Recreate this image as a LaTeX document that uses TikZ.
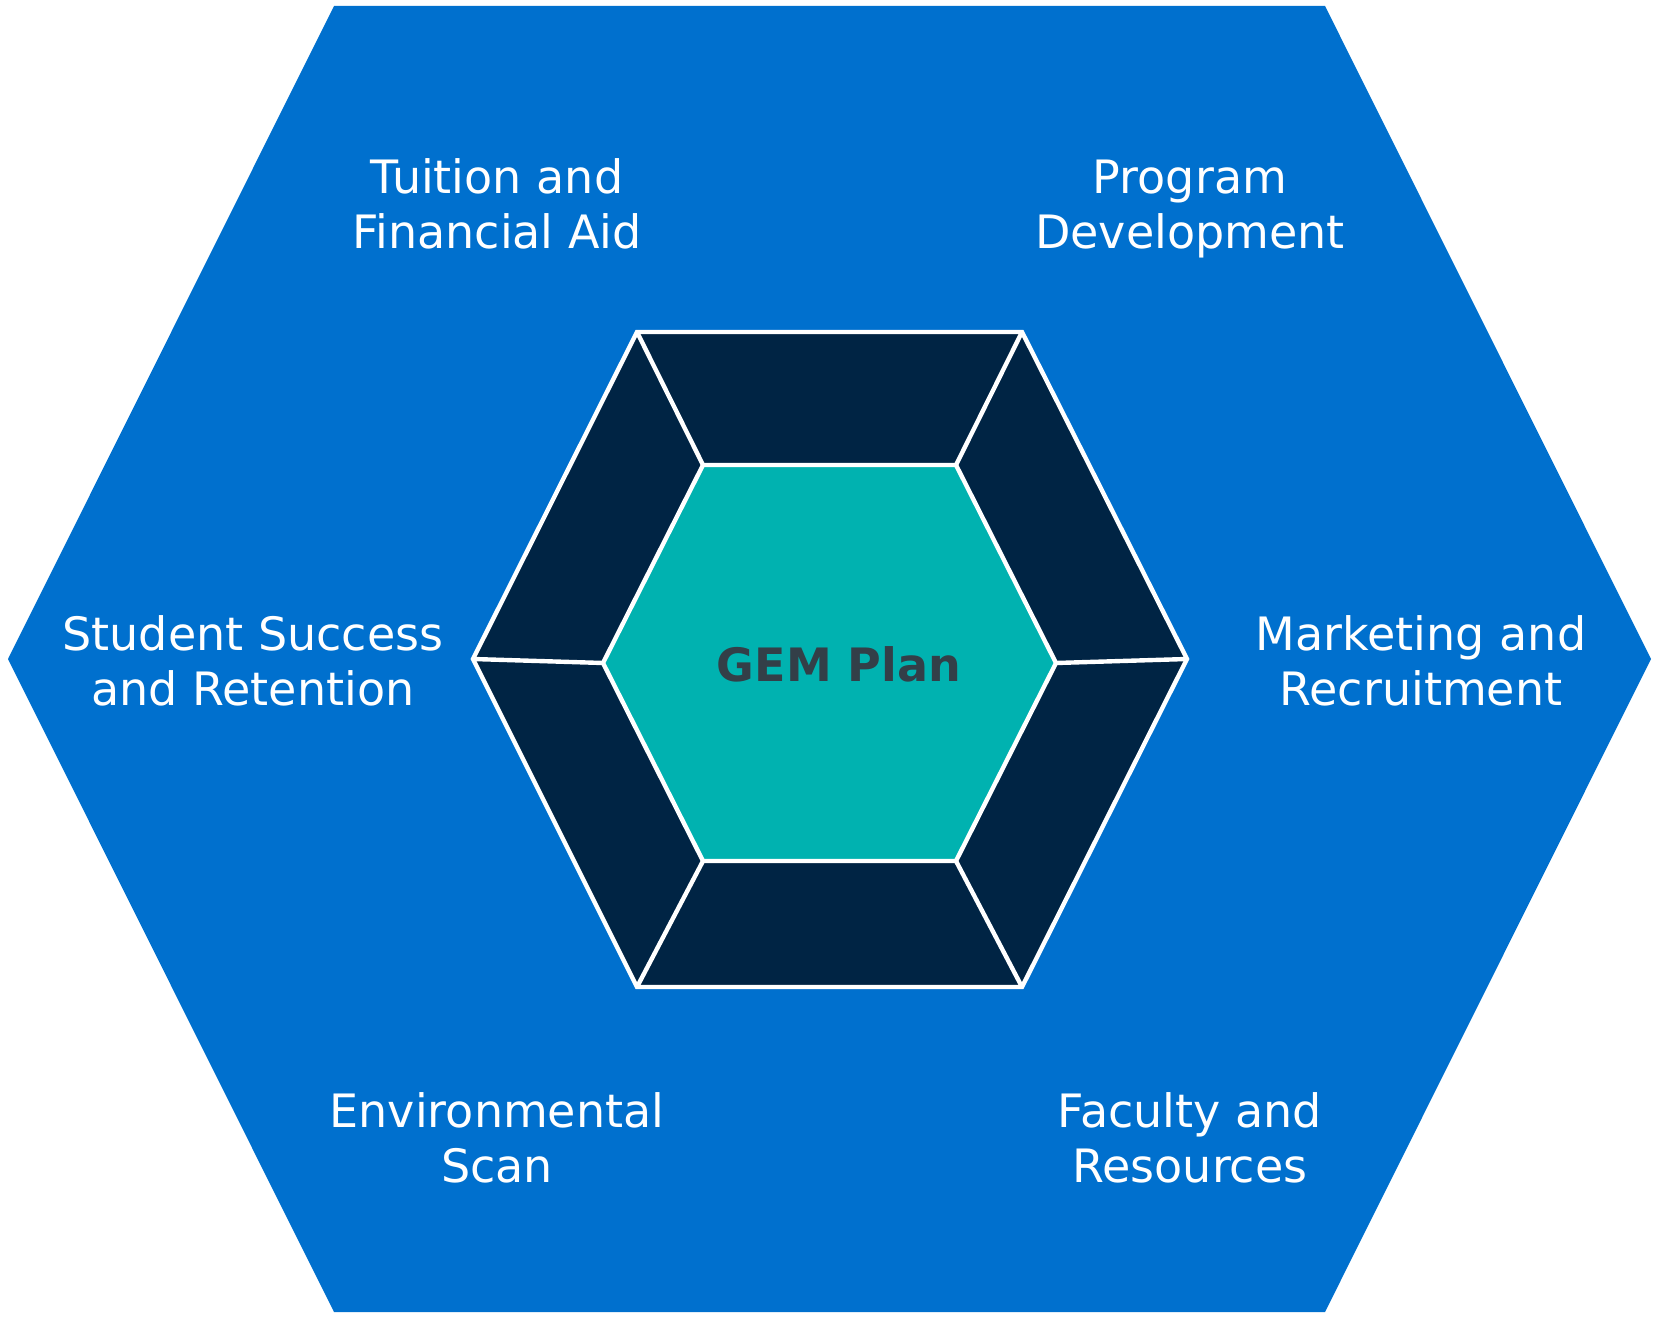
\documentclass[tikz,border=0pt]{standalone}
\usepackage{fontspec}
\setmainfont{DejaVu Sans}
\usepackage{tikz}
\definecolor{gemblue}{RGB}{0,112,206}
\definecolor{gemnavy}{RGB}{0,36,68}
\definecolor{gemteal}{RGB}{0,178,176}
\definecolor{gemgray}{RGB}{51,63,72}
\begin{document}
\begin{tikzpicture}[
		x=0.5pt, y=-0.5pt,
		face/.style={draw=white, line width=2.2pt, line join=miter},
		lbl/.style={text=white, align=center, font=\fontsize{23}{27.5}\selectfont},
		gem/.style={text=gemgray, font=\fontsize{23}{27.5}\selectfont\bfseries}]
	\useasboundingbox (0,0) rectangle (1659,1320);
	%% define corners
	\coordinate (o1) at (334,6);   \coordinate (o2) at (1325,6);
	\coordinate (o3) at (1651,659); \coordinate (o4) at (1325,1312);
	\coordinate (o5) at (334,1312); \coordinate (o6) at (8,659);
	\coordinate (d1) at (637,332);  \coordinate (d2) at (1022,332);
	\coordinate (d3) at (1187,659); \coordinate (d4) at (1022,987);
	\coordinate (d5) at (637,987);  \coordinate (d6) at (473,659);
	\coordinate (t1) at (703,465);  \coordinate (t2) at (956,465);
	\coordinate (t3) at (1056,663); \coordinate (t4) at (956,861);
	\coordinate (t5) at (703,861);  \coordinate (t6) at (603,663);
	%% define hexagons
	\fill[gemblue] (o1) -- (o2) -- (o3) -- (o4) -- (o5) -- (o6) -- cycle;
	\filldraw[face, fill=gemnavy] (d1) -- (d2) -- (d3) -- (d4) -- (d5) -- (d6) -- cycle;
	\filldraw[face, fill=gemteal] (t1) -- (t2) -- (t3) -- (t4) -- (t5) -- (t6) -- cycle;
	\foreach \i in {1,...,6}
		\draw[face] (d\i) -- (t\i);
	%% define labels
	\node (gem) at (839,664) [gem] {GEM Plan};
	\node (tuition) at (497,204) [lbl] {Tuition and\\Financial Aid};
	\node (program) at (1190,209) [lbl] {Program\\Development};
	\node (student) at (253,661) [lbl] {Student Success\\and Retention};
	\node (marketing) at (1421,661) [lbl] {Marketing and\\Recruitment};
	\node (scan) at (497,1138) [lbl] {Environmental\\Scan};
	\node (faculty) at (1190,1138) [lbl] {Faculty and\\Resources};
\end{tikzpicture}
\end{document}
